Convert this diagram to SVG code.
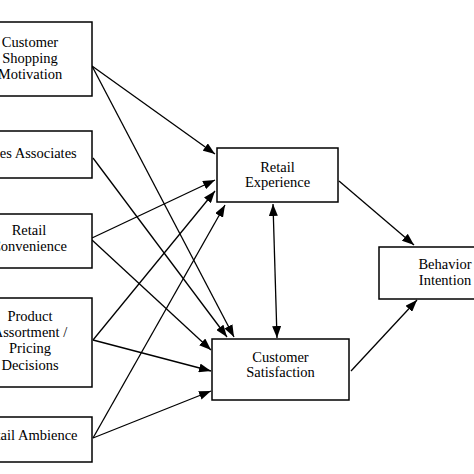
<svg xmlns="http://www.w3.org/2000/svg" width="474" height="474" viewBox="0 0 474 474">
<style>
.box{fill:#fff;stroke:#000;stroke-width:1.5}
.t{font-family:"Liberation Serif","Times New Roman",serif;font-size:14.5px;fill:#000;text-anchor:middle}
.c{stroke:#000;stroke-width:1.3;fill:none;marker-end:url(#ah)}
</style>
<defs>
<marker id="ah" markerUnits="userSpaceOnUse" markerWidth="13" markerHeight="9" refX="12" refY="4.5" orient="auto-start-reverse">
<path d="M0,0 L12,4.5 L0,9 z" fill="#000"/>
</marker>
</defs>
<rect width="474" height="474" fill="#fff"/>
<g id="connectors">
<line class="c" x1="92" y1="66" x2="215" y2="154"/>
<line class="c" x1="92" y1="66" x2="234" y2="337"/>
<line class="c" x1="93" y1="158" x2="227" y2="337"/>
<line class="c" x1="92" y1="238" x2="215" y2="180"/>
<line class="c" x1="92" y1="240" x2="211" y2="350"/>
<line class="c" x1="93" y1="340" x2="215" y2="191"/>
<line class="c" x1="93" y1="340" x2="211" y2="371"/>
<line class="c" x1="93" y1="438" x2="225" y2="205"/>
<line class="c" x1="93" y1="438" x2="211" y2="391"/>
<line class="c" x1="339" y1="181" x2="414" y2="245"/>
<line class="c" x1="351" y1="371" x2="417" y2="300"/>
<line class="c" x1="273" y1="204" x2="277" y2="338" style="marker-start:url(#ah)"/>
</g>
<g id="motivation">
<rect class="box" x="-32" y="22" width="124" height="74"/>
<text class="t" x="30" y="47">Customer</text>
<text class="t" x="30" y="63">Shopping</text>
<text class="t" x="30" y="79">Motivation</text>
</g>
<g id="sales">
<rect class="box" x="-32" y="131" width="124" height="47"/>
<text class="t" x="29" y="158">Sales Associates</text>
</g>
<g id="convenience">
<rect class="box" x="-32" y="214" width="124" height="54"/>
<text class="t" x="29" y="235">Retail</text>
<text class="t" x="29" y="251">Convenience</text>
</g>
<g id="assortment">
<rect class="box" x="-32" y="298" width="124" height="89"/>
<text class="t" x="30" y="321">Product</text>
<text class="t" x="30" y="337">Assortment /</text>
<text class="t" x="30" y="353">Pricing</text>
<text class="t" x="30" y="370">Decisions</text>
</g>
<g id="ambience">
<rect class="box" x="-32" y="417" width="124" height="45"/>
<text class="t" x="29" y="440">Retail Ambience</text>
</g>
<g id="experience">
<rect class="box" x="217" y="148" width="121" height="54"/>
<text class="t" x="277.5" y="172">Retail</text>
<text class="t" x="277.5" y="187">Experience</text>
</g>
<g id="satisfaction">
<rect class="box" x="212" y="339" width="137" height="61"/>
<text class="t" x="280.5" y="362">Customer</text>
<text class="t" x="280.5" y="377">Satisfaction</text>
</g>
<g id="intention">
<rect class="box" x="379" y="247" width="132" height="52"/>
<text class="t" x="445" y="269">Behavior</text>
<text class="t" x="445" y="285">Intention</text>
</g>
</svg>
